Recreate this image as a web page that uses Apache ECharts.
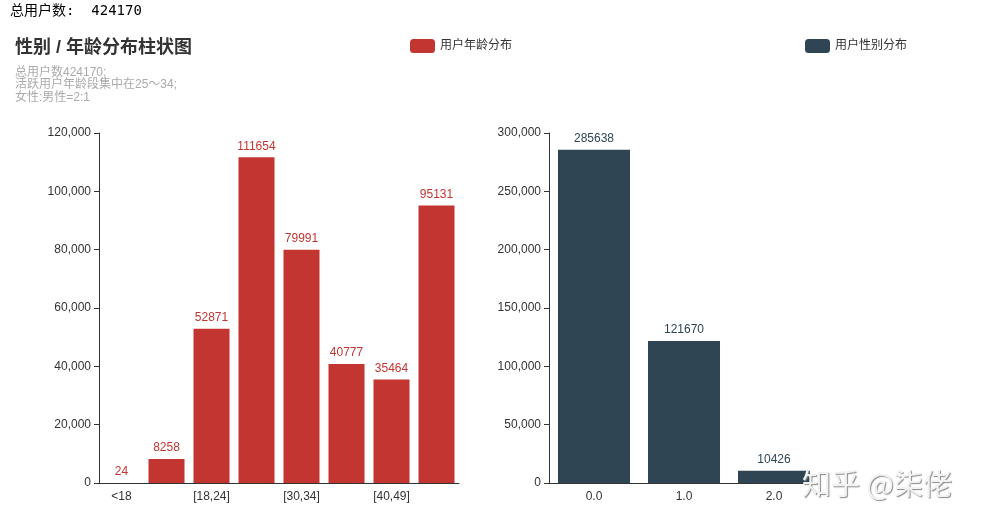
<!DOCTYPE html>
<html>
<head>
<meta charset="utf-8">
<script src="https://cdn.jsdelivr.net/npm/echarts@6/dist/echarts.min.js"></script>
<style>
html,body{margin:0;padding:0;background:#fff;}
#main{width:981px;height:526px;}
</style>
</head>
<body>
<div id="main"></div>
<script>
var ageCategories = ['<18', '>=50', '[18,24]', '[25,29]', '[30,34]', '[35,39]', '[40,49]', '未知'];
var ageValues = [24, 8258, 52871, 111654, 79991, 40777, 35464, 95131];
var genderCategories = ['0.0', '1.0', '2.0'];
var genderValues = [285638, 121670, 10426];
var totalUsers = 424170;

var FONT = "'Liberation Sans', 'Noto Sans CJK SC', sans-serif";
var chart = echarts.init(document.getElementById('main'));
chart.setOption({
  animation: false,
  textStyle: { fontFamily: FONT },
  color: ['#c23531', '#2f4554'],
  title: {
    text: '性别 / 年龄分布柱状图',
    subtext: '总用户数' + totalUsers + ';\n活跃用户年龄段集中在25～34;\n女性:男性=2:1',
    left: 10,
    top: 34,
    itemGap: 9,
    textStyle: { fontFamily: FONT, fontSize: 18, fontWeight: 'bold', color: '#333' },
    subtextStyle: { fontFamily: FONT, fontSize: 12, color: '#aaa', lineHeight: 12.5 }
  },
  legend: [
    { data: ['用户年龄分布'], left: 405, top: 34, icon: 'roundRect', itemWidth: 25, itemHeight: 14,
      textStyle: { fontFamily: FONT, fontSize: 12, color: '#333' } },
    { data: ['用户性别分布'], left: 800, top: 34, icon: 'roundRect', itemWidth: 25, itemHeight: 14,
      textStyle: { fontFamily: FONT, fontSize: 12, color: '#333' } }
  ],
  graphic: [
    { type: 'text', left: 10, top: 4,
      style: { text: '总用户数:  ' + totalUsers, font: "14px 'DejaVu Sans Mono', 'Noto Sans CJK SC', monospace", fill: '#000' } },
    { type: 'text', left: 802, top: 469, z: 100,
      style: { text: '知乎 @柒佬', font: "29px 'Noto Sans CJK SC', sans-serif", fill: '#f2f2f2',
               textShadowColor: '#8a8a8a', textShadowOffsetX: 1, textShadowOffsetY: 1, textShadowBlur: 1 } }
  ],
  grid: [
    { left: 99, right: 522, top: 133, bottom: 43 },
    { left: 549, right: 162, top: 133, bottom: 43 }
  ],
  xAxis: [
    { type: 'category', gridIndex: 0, data: ageCategories,
      axisLine: { lineStyle: { color: '#333' } },
      axisTick: { interval: 1, lineStyle: { color: '#333' } },
      axisLabel: { interval: 1, color: '#333', fontSize: 12, margin: 8 } },
    { type: 'category', gridIndex: 1, data: genderCategories,
      axisLine: { lineStyle: { color: '#333' } },
      axisTick: { lineStyle: { color: '#333' } },
      axisLabel: { color: '#333', fontSize: 12, margin: 8 } }
  ],
  yAxis: [
    { type: 'value', gridIndex: 0, min: 0, max: 120000, interval: 20000,
      axisLine: { show: true, lineStyle: { color: '#333' } },
      axisTick: { show: true, lineStyle: { color: '#333' } },
      splitLine: { show: false },
      axisLabel: { color: '#333', fontSize: 12 } },
    { type: 'value', gridIndex: 1, min: 0, max: 300000, interval: 50000,
      axisLine: { show: true, lineStyle: { color: '#333' } },
      axisTick: { show: true, lineStyle: { color: '#333' } },
      splitLine: { show: false },
      axisLabel: { color: '#333', fontSize: 12 } }
  ],
  series: [
    { name: '用户年龄分布', type: 'bar', xAxisIndex: 0, yAxisIndex: 0, data: ageValues,
      barCategoryGap: '20%', itemStyle: { color: '#c23531' },
      label: { show: true, position: 'top', color: '#c23531', fontSize: 12 } },
    { name: '用户性别分布', type: 'bar', xAxisIndex: 1, yAxisIndex: 1, data: genderValues,
      barCategoryGap: '20%', itemStyle: { color: '#2f4554' },
      label: { show: true, position: 'top', color: '#2f4554', fontSize: 12 } }
  ]
});
</script>
</body>
</html>
